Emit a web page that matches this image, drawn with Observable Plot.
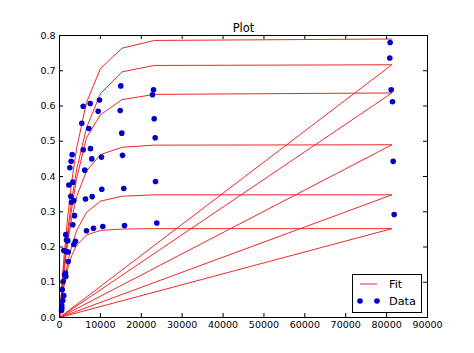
<!DOCTYPE html>
<html><head><meta charset="utf-8">
<script src="https://cdn.jsdelivr.net/npm/d3@7"></script>
<script src="https://cdn.jsdelivr.net/npm/@observablehq/plot@0.6"></script>
<style>
html,body{margin:0;padding:0;background:#fff;}
#chart svg{display:block;}
</style></head><body><div id="chart"></div>
<script>
// tick values
const xTicks = [0, 10000, 20000, 30000, 40000, 50000, 60000, 70000, 80000, 90000];
const yTicks = [0, 0.1, 0.2, 0.3, 0.4, 0.5, 0.6, 0.7, 0.8];

// fit curves: shared knot x values, one y list per curve (drawn as one continuous line)
const fitX = [0, 1000, 2000, 3000, 4200, 6600, 10000, 15300, 23200, 81300];
const fit1 = [0, 0.083, 0.139, 0.176, 0.205, 0.234, 0.247, 0.251, 0.252, 0.252];
const fit2 = [0, 0.089, 0.155, 0.204, 0.247, 0.298, 0.330, 0.344, 0.348, 0.348];
const fit3 = [0, 0.122, 0.213, 0.282, 0.343, 0.416, 0.462, 0.483, 0.489, 0.490];
const fit4 = [0, 0.127, 0.229, 0.310, 0.395, 0.510, 0.575, 0.618, 0.633, 0.637];
const fit5 = [0, 0.135, 0.246, 0.335, 0.420, 0.538, 0.635, 0.697, 0.715, 0.717];
const fit6 = [0, 0.158, 0.285, 0.386, 0.481, 0.610, 0.706, 0.764, 0.786, 0.790];

// data series [x, y]
const s1 = [[490,0.020],[810,0.048],[1550,0.116],[2130,0.159],[3500,0.207],[6600,0.246],[8310,0.253],[10590,0.258],[15900,0.261],[23800,0.268],[81850,0.292]];
const s2 = [[560,0.026],[1050,0.062],[1220,0.121],[2130,0.186],[3910,0.216],[6360,0.336],[8000,0.343],[10340,0.364],[15720,0.366],[23480,0.386],[81610,0.443]];
const s3 = [[560,0.034],[900,0.102],[1470,0.126],[3260,0.263],[3670,0.289],[6190,0.418],[7900,0.450],[10270,0.455],[15410,0.460],[23400,0.510],[81440,0.612]];
const s4 = [[660,0.079],[1630,0.187],[2030,0.218],[2930,0.327],[3500,0.332],[5800,0.476],[7580,0.479],[15240,0.523],[23160,0.564],[81120,0.646]];
const s5 = [[1050,0.190],[1710,0.220],[2760,0.344],[3260,0.384],[2530,0.425],[5450,0.551],[7170,0.536],[9460,0.585],[14840,0.587],[22740,0.632],[80780,0.736]];
const s6 = [[1530,0.235],[2280,0.376],[2850,0.443],[3100,0.462],[5800,0.599],[7510,0.607],[9780,0.617],[14990,0.657],[22990,0.646],[80870,0.780]];

const title = "Plot";
const legendLabels = ["Fit", "Data"];

const fitCurves = [fit1, fit2, fit3, fit4, fit5, fit6];
const fitLine = fitCurves.flatMap(c => c.map((y, i) => ({x: fitX[i], y})));
const dots = [s1, s2, s3, s4, s5, s6].flatMap(s => s.map(([x, y]) => ({x, y})));

const W = 474, H = 353, mL = 59, mR = 47, mT = 35, mB = 36;
const innerW = W - mL - mR, innerH = H - mT - mB;
const FONT = "DejaVu Sans, sans-serif";
const RED = "#f02828", BLUE = "#0000c8";

const svg = Plot.plot({
  width: W, height: H,
  marginLeft: mL, marginRight: mR, marginTop: mT, marginBottom: mB,
  style: {fontFamily: FONT, fontSize: "9.5px", color: "#000", background: "#fff"},
  x: {domain: [0, 90000], label: null},
  y: {domain: [0, 0.8], label: null},
  marks: [
    Plot.line(fitLine, {x: "x", y: "y", stroke: RED, strokeWidth: 1}),
    Plot.dot(dots, {x: "x", y: "y", r: 2.8, fill: BLUE, stroke: "none"}),
    // inward ticks on all four sides
    Plot.tickX(xTicks, {x: d => d, insetTop: innerH - 4, stroke: "#000"}),
    Plot.tickX(xTicks, {x: d => d, insetBottom: innerH - 4, stroke: "#000"}),
    Plot.tickY(yTicks, {y: d => d, insetRight: innerW - 4, stroke: "#000"}),
    Plot.tickY(yTicks, {y: d => d, insetLeft: innerW - 4, stroke: "#000"}),
    Plot.axisX(xTicks, {anchor: "bottom", tickSize: 0, tickPadding: 4, tickFormat: d => String(d), label: null}),
    Plot.axisY(yTicks, {anchor: "left", tickSize: 0, tickPadding: 4, tickFormat: d3.format(".1f"), label: null}),
    Plot.frame({stroke: "#000", strokeWidth: 1}),
    Plot.text([title], {frameAnchor: "top", dy: -4, lineAnchor: "bottom", fontSize: 11.5, fill: "#000"})
  ]
});

// legend (lower right, inside the axes)
const g = d3.select(svg).append("g").attr("font-family", FONT).attr("font-size", 11.3)
  .attr("text-anchor", "start");
const lw = 69, lh = 38;
const lx = W - mR - 6 - lw, ly = H - mB - 5 - lh;
g.append("rect").attr("x", lx + 0.5).attr("y", ly + 0.5).attr("width", lw).attr("height", lh)
  .attr("fill", "#fff").attr("stroke", "#000");
const row1 = ly + 10, row2 = ly + 27;
g.append("line").attr("x1", lx + 8).attr("x2", lx + 25).attr("y1", row1).attr("y2", row1)
  .attr("stroke", RED).attr("stroke-width", 1);
g.append("circle").attr("cx", lx + 8).attr("cy", row2).attr("r", 2.8).attr("fill", BLUE);
g.append("circle").attr("cx", lx + 25).attr("cy", row2).attr("r", 2.8).attr("fill", BLUE);
g.append("text").attr("x", lx + 37).attr("y", row1).attr("dy", "0.35em").attr("text-anchor", "start").text(legendLabels[0]);
g.append("text").attr("x", lx + 37).attr("y", row2).attr("dy", "0.35em").attr("text-anchor", "start").text(legendLabels[1]);

document.getElementById("chart").appendChild(svg);
</script>
</body></html>
